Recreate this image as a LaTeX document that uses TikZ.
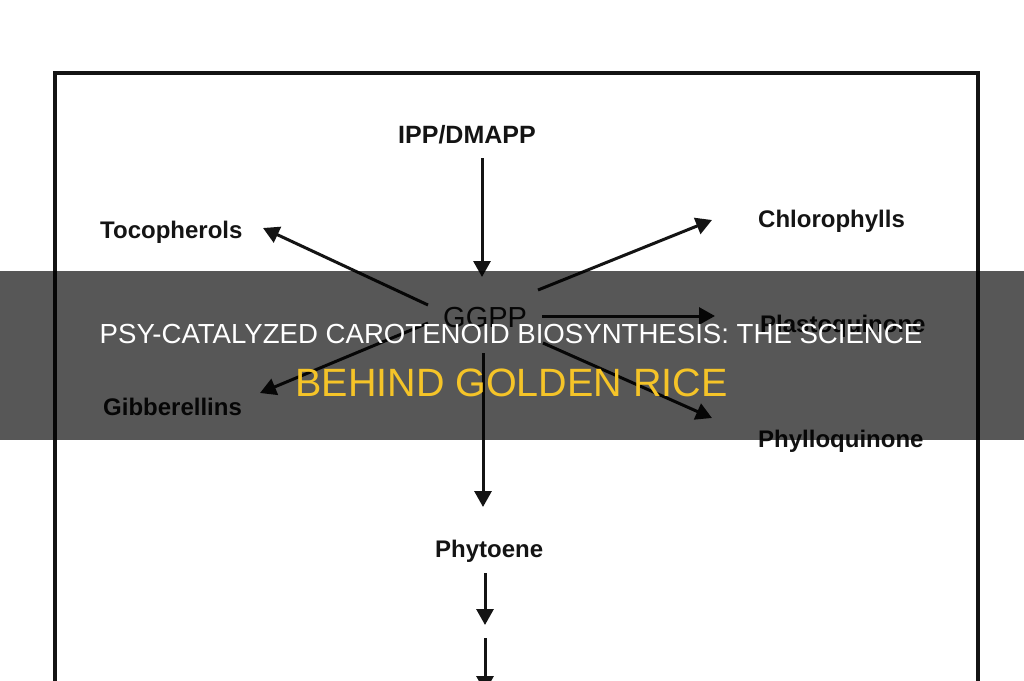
\documentclass[tikz,border=0pt]{standalone}
\usepackage{fontspec}
\setmainfont{Liberation Sans}
\usetikzlibrary{arrows.meta}
\definecolor{titleyellow}{RGB}{245,196,40}
\definecolor{ink}{RGB}{20,20,20}
\begin{document}
\begin{tikzpicture}[x=1pt,y=-1pt,
  lbl/.style={anchor=base west,inner sep=0pt,font=\bfseries\fontsize{24}{28}\selectfont,text=ink},
  arr/.style={line width=3pt,draw=ink,-{Triangle[width=17pt,length=16pt]}},
  band/.style={fill=black,opacity=0.66},
  title/.style={anchor=base,inner sep=0pt,text=white,font=\fontsize{27.6}{30}\selectfont},
  subtitle/.style={anchor=base,inner sep=0pt,text=titleyellow,font=\fontsize{39.5}{42}\selectfont}]
\clip (0,0) rectangle (1024,680);
\fill[white] (0,0) rectangle (1024,680);
\draw[line width=4pt,draw=ink] (55,73) rectangle (978,720);
% labels
\node[lbl,font=\bfseries\fontsize{25}{28}\selectfont] (ipp) at (398,143) {IPP/DMAPP};
\node[lbl] (toco) at (100,238) {Tocopherols};
\node[lbl] (chloro) at (758,227) {Chlorophylls};
\node[lbl,font=\fontsize{29}{32}\selectfont] (ggpp) at (443,327) {GGPP};
\node[lbl] (plasto) at (760,332) {Plastoquinone};
\node[lbl] (gibb) at (103,415) {Gibberellins};
\node[lbl] (phyllo) at (758,447) {Phylloquinone};
\node[lbl] (phyt) at (435,557) {Phytoene};
\coordinate (c1) at (485,625);
\coordinate (c2) at (485,638);
\coordinate (c3) at (485,692);
% arrows
\draw[arr] ([shift={(84,15)}]ipp.base west) -- ([shift={(39,-50)}]ggpp.base west);
\draw[arr] ([shift={(-15,-22)}]ggpp.base west) -- ([shift={(163,-10)}]toco.base west);
\draw[arr] ([shift={(95,-37)}]ggpp.base west) -- ([shift={(-46,-7)}]chloro.base west);
\draw[arr] ([shift={(99,-11)}]ggpp.base west) -- ([shift={(-45,-16)}]plasto.base west);
\draw[arr] ([shift={(100,16)}]ggpp.base west) -- ([shift={(-46,-29)}]phyllo.base west);
\draw[arr] ([shift={(-15,-4)}]ggpp.base west) -- ([shift={(157,-22)}]gibb.base west);
\draw[arr] ([shift={(40,26)}]ggpp.base west) -- ([shift={(48,-50)}]phyt.base west);
\draw[arr] ([shift={(50,16)}]phyt.base west) -- (c1);
\draw[arr] (c2) -- (c3);
% overlay band
\fill[band] (0,271) rectangle (1024,440);
\node[title] (t1) at (511,343) {PSY-CATALYZED CAROTENOID BIOSYNTHESIS: THE SCIENCE};
\node[subtitle] (t2) at (511.5,396) {BEHIND GOLDEN RICE};
\end{tikzpicture}
\end{document}
